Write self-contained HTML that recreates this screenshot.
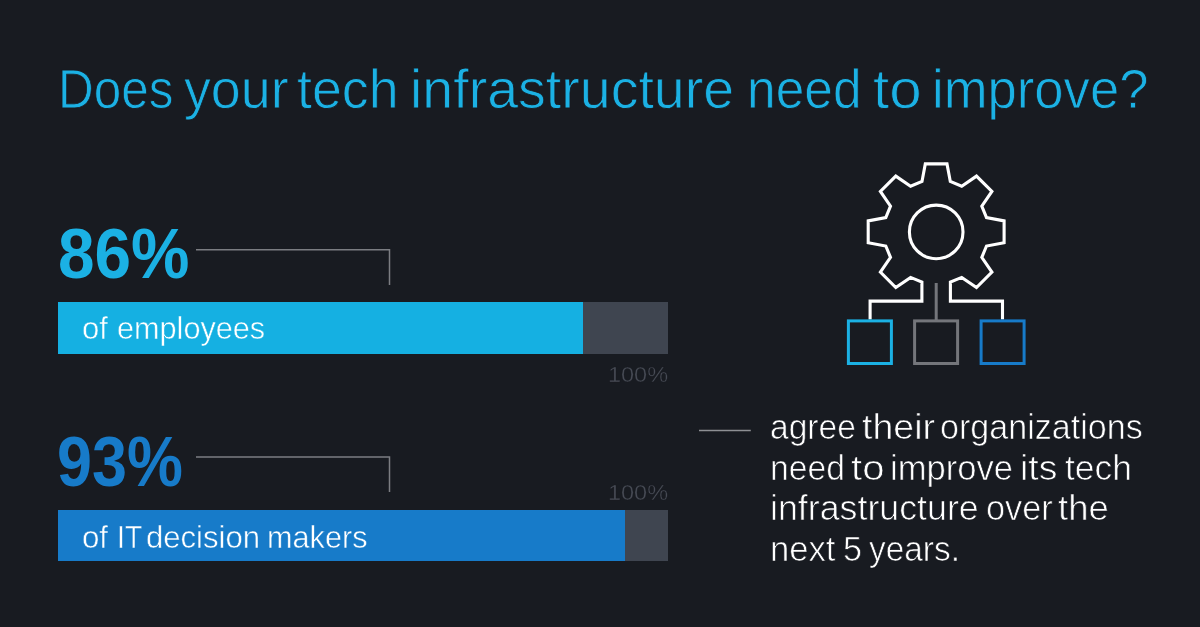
<!DOCTYPE html>
<html lang="en">
<head>
<meta charset="utf-8">
<title>Does your tech infrastructure need to improve?</title>
<style>
html,body{margin:0;padding:0;}
body{width:1200px;height:627px;overflow:hidden;background:#181b21;position:relative;font-family:"Liberation Sans",sans-serif;}
.grp{position:absolute;left:0;top:0;width:0;height:0;font-family:"Liberation Sans",sans-serif;}
.w{position:absolute;white-space:nowrap;line-height:1;transform-origin:0 0;display:block;}
.bar{position:absolute;left:58px;width:610px;height:51.4px;background:#3f4550;}
.bar i{position:absolute;left:0;top:0;height:100%;display:block;}
#b1{top:302.4px;} #b1 i{width:524.6px;background:#15b0e2;}
#b2{top:509.6px;} #b2 i{width:567.2px;background:#177bc9;}
svg{position:absolute;left:0;top:0;}
</style>
</head>
<body>
<div id="title" class="grp" style="font-size:55px;color:#1bb1e4;-webkit-text-stroke:0.8px #181b21;"><span class="w" style="left:58.41px;top:61.8px;transform:scaleX(0.8983)">Does</span> <span class="w" style="left:183.72px;top:61.8px;transform:scaleX(0.9771)">your</span> <span class="w" style="left:297.02px;top:61.8px;transform:scaleX(0.9768)">tech</span> <span class="w" style="left:410.16px;top:61.8px;transform:scaleX(1.0099)">infrastructure</span> <span class="w" style="left:746.56px;top:61.8px;transform:scaleX(0.936)">need</span> <span class="w" style="left:873.14px;top:61.8px;transform:scaleX(1.0595)">to</span> <span class="w" style="left:931.97px;top:61.8px;transform:scaleX(0.9568)">improve?</span></div>

<div id="p1" class="grp" style="font-size:71px;font-weight:bold;color:#1bb1e4;"><span class="w" style="left:57.75px;top:218.3px;transform:scaleX(0.9254)">86%</span></div>
<div id="p2" class="grp" style="font-size:71px;font-weight:bold;color:#177bc9;"><span class="w" style="left:57.33px;top:426.3px;transform:scaleX(0.8855)">93%</span></div>
<div id="b1" class="bar"><i></i></div>
<div id="b2" class="bar"><i></i></div>
<div id="l1" class="grp" style="font-size:31.5px;color:#fff;-webkit-text-stroke:0.5px #15b0e2;"><span class="w" style="left:81.68px;top:312.5px;transform:scaleX(0.9854)">of</span> <span class="w" style="left:117.06px;top:312.5px;transform:scaleX(0.9725)">employees</span></div>
<div id="l2" class="grp" style="font-size:31.5px;color:#fff;-webkit-text-stroke:0.5px #177bc9;"><span class="w" style="left:81.82px;top:521.7px;transform:scaleX(0.9917)">of</span> <span class="w" style="left:116.9px;top:521.7px;transform:scaleX(0.9)">IT</span> <span class="w" style="left:146.03px;top:521.7px;transform:scaleX(0.9865)">decision</span> <span class="w" style="left:266.95px;top:521.7px;transform:scaleX(0.973)">makers</span></div>
<div id="h1" class="grp" style="font-size:21.5px;color:#484c56;-webkit-text-stroke:0.4px #181b21;"><span class="w" style="left:607.72px;top:364.6px;transform:scaleX(1.0923)">100%</span></div>
<div id="h2" class="grp" style="font-size:21.5px;color:#484c56;-webkit-text-stroke:0.4px #181b21;"><span class="w" style="left:607.72px;top:483.2px;transform:scaleX(1.0923)">100%</span></div>

<div id="desc" class="grp" style="font-size:35px;color:#fff;-webkit-text-stroke:0.7px #181b21;"><span class="w" style="left:770.18px;top:408.5px;transform:scaleX(0.9588)">agree</span> <span class="w" style="left:862.43px;top:408.5px;transform:scaleX(1.0727)">their</span> <span class="w" style="left:940.35px;top:408.5px;transform:scaleX(0.9741)">organizations</span> <span class="w" style="left:770.31px;top:449.5px;transform:scaleX(0.9625)">need</span> <span class="w" style="left:850.85px;top:449.5px;transform:scaleX(1.1462)">to</span> <span class="w" style="left:890.24px;top:449.5px;transform:scaleX(0.9882)">improve</span> <span class="w" style="left:1020.1px;top:449.5px;transform:scaleX(1.0667)">its</span> <span class="w" style="left:1064.59px;top:449.5px;transform:scaleX(1.0143)">tech</span> <span class="w" style="left:770.23px;top:490.3px;transform:scaleX(1.0221)">infrastructure</span> <span class="w" style="left:986.34px;top:490.3px;transform:scaleX(0.98)">over</span> <span class="w" style="left:1058.46px;top:490.3px;transform:scaleX(1.0435)">the</span> <span class="w" style="left:770.33px;top:531.4px;transform:scaleX(0.9889)">next</span> <span class="w" style="left:843.45px;top:531.4px;transform:scaleX(0.975)">5</span> <span class="w" style="left:868.65px;top:531.4px;transform:scaleX(0.9538)">years.</span></div>

<svg width="1200" height="627" viewBox="0 0 1200 627" fill="none">
  <path d="M196 249.7H389.5V285" stroke="#7b7d82" stroke-width="1.5"/>
  <path d="M196 457.05H389.5V492" stroke="#7b7d82" stroke-width="1.5"/>
  <path d="M699 430.55H750.8" stroke="#8e9094" stroke-width="1.4"/>
  <path d="M870.1 319.5V301.1H921.9V282.1L910.6 277.4 895.8 287.5 880.4 272.1 890.5 257.4 885.8 246 868.2 242.7V220.9L885.8 217.6 890.5 206.2 880.4 191.5 895.8 176.1 910.6 186.2 922 181.5 925.3 163.9H947L950.3 181.5 961.7 186.2 976.5 176.1 991.9 191.5 981.8 206.2 986.5 217.6 1004.1 220.9V242.7L986.5 246 981.8 257.4 991.9 272.1 976.5 287.5 961.7 277.4 950.4 282.1V301.1H1002.5V319.5" stroke="#fff" stroke-width="3.1" stroke-linejoin="miter"/>
  <circle cx="936.2" cy="231.9" r="26.8" stroke="#fff" stroke-width="3.1"/>
  <path d="M936.2 283V320" stroke="#74767b" stroke-width="3"/>
  <rect x="848.4" y="320.9" width="43" height="42.6" stroke="#1bb1e4" stroke-width="3"/>
  <rect x="914.6" y="320.9" width="43" height="42.6" stroke="#74767b" stroke-width="3"/>
  <rect x="981.1" y="320.9" width="43" height="42.6" stroke="#177bc9" stroke-width="3"/>
</svg>
</body>
</html>
